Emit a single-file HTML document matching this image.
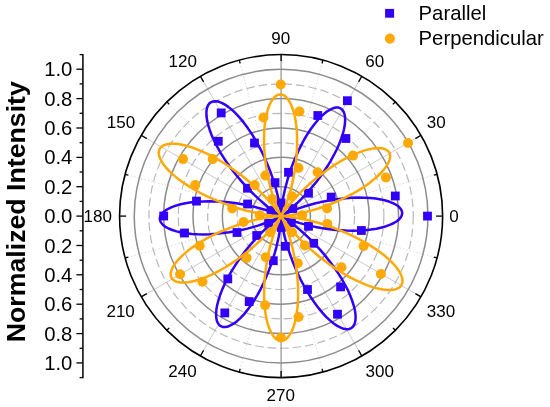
<!DOCTYPE html>
<html><head><meta charset="utf-8"><title>Polar plot</title>
<style>html,body{margin:0;padding:0;background:#fff}svg{display:block}</style></head>
<body>
<svg width="550" height="407" viewBox="0 0 550 407" font-family="'Liberation Sans', Arial, sans-serif">
<rect width="550" height="407" fill="#fff"/>
<g stroke="#c4c4c4" stroke-width="0.9" fill="none"><line x1="281.1" y1="216.1" x2="421.0" y2="135.3"/><line x1="281.1" y1="216.1" x2="361.9" y2="76.2"/><line x1="281.1" y1="216.1" x2="200.3" y2="76.2"/><line x1="281.1" y1="216.1" x2="141.2" y2="135.3"/><line x1="281.1" y1="216.1" x2="141.2" y2="296.9"/><line x1="281.1" y1="216.1" x2="200.3" y2="356.0"/><line x1="281.1" y1="216.1" x2="361.9" y2="356.0"/><line x1="281.1" y1="216.1" x2="421.0" y2="296.9"/></g>
<g stroke="#d6d6d6" stroke-width="0.9" stroke-dasharray="1.5 2" fill="none"><line x1="281.1" y1="216.1" x2="437.1" y2="174.3"/><line x1="281.1" y1="216.1" x2="395.3" y2="101.9"/><line x1="281.1" y1="216.1" x2="322.9" y2="60.1"/><line x1="281.1" y1="216.1" x2="239.3" y2="60.1"/><line x1="281.1" y1="216.1" x2="166.9" y2="101.9"/><line x1="281.1" y1="216.1" x2="125.1" y2="174.3"/><line x1="281.1" y1="216.1" x2="125.1" y2="257.9"/><line x1="281.1" y1="216.1" x2="166.9" y2="330.3"/><line x1="281.1" y1="216.1" x2="239.3" y2="372.1"/><line x1="281.1" y1="216.1" x2="322.9" y2="372.1"/><line x1="281.1" y1="216.1" x2="395.3" y2="330.3"/><line x1="281.1" y1="216.1" x2="437.1" y2="257.9"/></g>
<g stroke="#b8b8b8" stroke-width="1.2" stroke-dasharray="8.5 4" fill="none"><circle cx="281.1" cy="216.1" r="14.69"/><circle cx="281.1" cy="216.1" r="44.05"/><circle cx="281.1" cy="216.1" r="73.42"/><circle cx="281.1" cy="216.1" r="102.79"/><circle cx="281.1" cy="216.1" r="132.16"/></g>
<g stroke="#8c8c8c" stroke-width="1.5" fill="none"><circle cx="281.1" cy="216.1" r="29.37"/><circle cx="281.1" cy="216.1" r="58.74"/><circle cx="281.1" cy="216.1" r="88.11"/><circle cx="281.1" cy="216.1" r="117.48"/><circle cx="281.1" cy="216.1" r="146.85"/></g>
<line x1="281.1" y1="54.6" x2="281.1" y2="377.6" stroke="#909090" stroke-width="1.2"/>
<circle cx="281.1" cy="216.1" r="161.53" fill="none" stroke="#000" stroke-width="1.6"/>
<g stroke="#000" stroke-width="1.3"><line x1="442.6" y1="216.1" x2="436.1" y2="216.1"/><line x1="437.1" y1="174.3" x2="433.9" y2="175.1"/><line x1="421.0" y1="135.3" x2="415.4" y2="138.6"/><line x1="395.3" y1="101.9" x2="393.0" y2="104.2"/><line x1="361.9" y1="76.2" x2="358.6" y2="81.8"/><line x1="322.9" y1="60.1" x2="322.1" y2="63.3"/><line x1="281.1" y1="54.6" x2="281.1" y2="61.1"/><line x1="239.3" y1="60.1" x2="240.1" y2="63.3"/><line x1="200.3" y1="76.2" x2="203.6" y2="81.8"/><line x1="166.9" y1="101.9" x2="169.2" y2="104.2"/><line x1="141.2" y1="135.3" x2="146.8" y2="138.6"/><line x1="125.1" y1="174.3" x2="128.3" y2="175.1"/><line x1="119.6" y1="216.1" x2="126.1" y2="216.1"/><line x1="125.1" y1="257.9" x2="128.3" y2="257.1"/><line x1="141.2" y1="296.9" x2="146.8" y2="293.6"/><line x1="166.9" y1="330.3" x2="169.2" y2="328.0"/><line x1="200.3" y1="356.0" x2="203.6" y2="350.4"/><line x1="239.3" y1="372.1" x2="240.1" y2="368.9"/><line x1="281.1" y1="377.6" x2="281.1" y2="371.1"/><line x1="322.9" y1="372.1" x2="322.1" y2="368.9"/><line x1="361.9" y1="356.0" x2="358.6" y2="350.4"/><line x1="395.3" y1="330.3" x2="393.0" y2="328.0"/><line x1="421.0" y1="296.9" x2="415.4" y2="293.6"/><line x1="437.1" y1="257.9" x2="433.9" y2="257.1"/></g>
<g fill="#3200fa"><rect x="423.1" y="211.7" width="8.8" height="8.8"/><rect x="390.9" y="191.6" width="8.8" height="8.8"/><rect x="357.0" y="226.1" width="8.8" height="8.8"/><rect x="326.8" y="192.7" width="8.8" height="8.8"/><rect x="304.1" y="188.8" width="8.8" height="8.8"/><rect x="304.1" y="221.9" width="8.8" height="8.8"/><rect x="309.3" y="238.9" width="8.8" height="8.8"/><rect x="288.4" y="204.1" width="8.8" height="8.8"/><rect x="286.9" y="218.4" width="8.8" height="8.8"/><rect x="281.0" y="241.9" width="8.8" height="8.8"/><rect x="284.1" y="167.9" width="8.8" height="8.8"/><rect x="276.6" y="198.6" width="8.8" height="8.8"/><rect x="276.9" y="223.1" width="8.8" height="8.8"/><rect x="343.0" y="96.3" width="8.8" height="8.8"/><rect x="313.4" y="111.1" width="8.8" height="8.8"/><rect x="341.5" y="134.1" width="8.8" height="8.8"/><rect x="216.8" y="108.5" width="8.8" height="8.8"/><rect x="213.9" y="136.9" width="8.8" height="8.8"/><rect x="250.1" y="138.6" width="8.8" height="8.8"/><rect x="243.1" y="183.8" width="8.8" height="8.8"/><rect x="243.2" y="199.6" width="8.8" height="8.8"/><rect x="192.1" y="196.7" width="8.8" height="8.8"/><rect x="159.3" y="211.6" width="8.8" height="8.8"/><rect x="270.6" y="178.2" width="8.8" height="8.8"/><rect x="266.6" y="206.2" width="8.8" height="8.8"/><rect x="264.2" y="218.8" width="8.8" height="8.8"/><rect x="232.6" y="228.1" width="8.8" height="8.8"/><rect x="252.3" y="231.1" width="8.8" height="8.8"/><rect x="180.1" y="228.6" width="8.8" height="8.8"/><rect x="223.4" y="274.5" width="8.8" height="8.8"/><rect x="268.9" y="256.3" width="8.8" height="8.8"/><rect x="244.8" y="297.2" width="8.8" height="8.8"/><rect x="220.4" y="308.5" width="8.8" height="8.8"/><rect x="303.1" y="285.1" width="8.8" height="8.8"/><rect x="336.2" y="282.5" width="8.8" height="8.8"/><rect x="333.1" y="309.8" width="8.8" height="8.8"/></g>
<g fill="#ffa906"><circle cx="408.0" cy="143.0" r="5"/><circle cx="385.9" cy="177.5" r="5"/><circle cx="327.1" cy="208.5" r="5"/><circle cx="327.3" cy="223.9" r="5"/><circle cx="363.6" cy="246.0" r="5"/><circle cx="304.8" cy="245.4" r="5"/><circle cx="302.2" cy="215.3" r="5"/><circle cx="317.6" cy="172.2" r="5"/><circle cx="292.0" cy="196.3" r="5"/><circle cx="292.0" cy="232.2" r="5"/><circle cx="272.1" cy="199.0" r="5"/><circle cx="298.5" cy="168.0" r="5"/><circle cx="297.8" cy="263.3" r="5"/><circle cx="263.4" cy="117.5" r="5"/><circle cx="183.0" cy="159.1" r="5"/><circle cx="212.7" cy="159.1" r="5"/><circle cx="280.7" cy="84.5" r="5"/><circle cx="195.2" cy="185.1" r="5"/><circle cx="254.7" cy="185.1" r="5"/><circle cx="265.3" cy="175.5" r="5"/><circle cx="232.2" cy="208.4" r="5"/><circle cx="259.8" cy="215.3" r="5"/><circle cx="243.5" cy="222.0" r="5"/><circle cx="199.7" cy="245.8" r="5"/><circle cx="180.1" cy="274.3" r="5"/><circle cx="202.5" cy="281.7" r="5"/><circle cx="246.6" cy="257.9" r="5"/><circle cx="265.7" cy="257.2" r="5"/><circle cx="270.2" cy="232.2" r="5"/><circle cx="265.1" cy="305.2" r="5"/><circle cx="341.5" cy="267.2" r="5"/><circle cx="380.9" cy="274.0" r="5"/><circle cx="298.5" cy="317.0" r="5"/><circle cx="281.0" cy="337.5" r="5"/><circle cx="299.4" cy="111.6" r="5"/><circle cx="353.0" cy="155.6" r="5"/></g>
<path d="M281.1,216.1 L281.4,216.3 L282.3,216.7 L283.8,217.4 L285.9,218.3 L288.5,219.3 L291.8,220.5 L295.6,221.8 L299.9,223.1 L304.6,224.4 L309.8,225.7 L315.4,226.9 L321.2,228.0 L327.3,228.9 L333.6,229.7 L340.0,230.2 L346.4,230.6 L352.8,230.7 L359.1,230.6 L365.1,230.2 L371.0,229.5 L376.5,228.7 L381.6,227.5 L386.2,226.2 L390.3,224.7 L393.9,223.0 L396.9,221.2 L399.2,219.2 L400.9,217.1 L401.9,215.0 L402.2,212.9 L401.8,210.8 L400.7,208.8 L398.9,206.8 L396.5,205.0 L393.4,203.3 L389.7,201.8 L385.5,200.5 L380.8,199.4 L375.7,198.6 L370.1,198.0 L364.3,197.7 L358.2,197.6 L351.9,197.8 L345.6,198.2 L339.2,198.9 L332.8,199.8 L326.6,200.9 L320.6,202.1 L314.8,203.5 L309.3,205.0 L304.2,206.5 L299.5,208.1 L295.3,209.6 L291.5,211.1 L288.4,212.5 L285.7,213.7 L283.7,214.7 L282.3,215.4 L281.4,215.9 L281.1,216.1 M281.1,216.1 L281.4,215.9 L282.2,215.4 L283.6,214.4 L285.5,213.0 L287.8,211.2 L290.5,209.0 L293.5,206.3 L296.9,203.3 L300.5,199.8 L304.3,195.9 L308.2,191.6 L312.1,187.0 L316.1,182.2 L320.0,177.1 L323.8,171.8 L327.4,166.3 L330.7,160.8 L333.8,155.2 L336.6,149.7 L339.1,144.3 L341.1,139.0 L342.8,134.0 L344.0,129.2 L344.8,124.8 L345.1,120.8 L345.1,117.2 L344.5,114.2 L343.6,111.7 L342.3,109.7 L340.6,108.4 L338.5,107.6 L336.2,107.6 L333.5,108.1 L330.7,109.3 L327.6,111.1 L324.4,113.6 L321.1,116.6 L317.7,120.2 L314.4,124.2 L311.0,128.8 L307.7,133.7 L304.5,139.0 L301.5,144.6 L298.6,150.4 L295.9,156.4 L293.4,162.4 L291.1,168.4 L289.1,174.4 L287.4,180.1 L285.9,185.7 L284.6,191.0 L283.5,195.9 L282.7,200.4 L282.1,204.4 L281.7,207.9 L281.4,210.8 L281.2,213.1 L281.1,214.8 L281.1,215.8 L281.1,216.1 M281.1,216.1 L281.1,215.7 L281.0,214.6 L280.8,212.8 L280.5,210.3 L280.1,207.2 L279.4,203.4 L278.5,199.1 L277.4,194.3 L276.0,189.0 L274.3,183.3 L272.4,177.4 L270.2,171.2 L267.7,164.9 L264.9,158.4 L261.9,152.0 L258.6,145.7 L255.2,139.6 L251.6,133.7 L247.8,128.1 L244.0,122.9 L240.1,118.1 L236.2,113.9 L232.4,110.2 L228.6,107.1 L225.0,104.6 L221.6,102.8 L218.4,101.6 L215.5,101.2 L213.0,101.4 L210.8,102.3 L209.0,103.8 L207.7,106.0 L206.8,108.8 L206.4,112.2 L206.5,116.0 L207.1,120.4 L208.2,125.1 L209.8,130.2 L211.8,135.6 L214.4,141.2 L217.3,146.9 L220.6,152.8 L224.3,158.7 L228.2,164.5 L232.4,170.2 L236.8,175.8 L241.3,181.1 L245.8,186.2 L250.4,191.0 L254.9,195.4 L259.2,199.4 L263.3,203.0 L267.1,206.2 L270.5,208.9 L273.6,211.2 L276.2,213.0 L278.3,214.4 L279.8,215.4 L280.8,215.9 L281.1,216.1 M281.1,216.1 L280.8,215.9 L279.9,215.5 L278.4,214.8 L276.3,213.9 L273.7,212.8 L270.4,211.6 L266.6,210.3 L262.3,209.0 L257.6,207.7 L252.4,206.4 L246.8,205.2 L241.0,204.1 L234.9,203.1 L228.6,202.3 L222.2,201.7 L215.8,201.4 L209.4,201.2 L203.1,201.4 L197.0,201.7 L191.2,202.3 L185.7,203.2 L180.6,204.3 L175.9,205.6 L171.8,207.1 L168.2,208.8 L165.2,210.6 L162.8,212.6 L161.1,214.6 L160.1,216.7 L159.8,218.9 L160.2,221.0 L161.3,223.0 L163.1,225.0 L165.5,226.8 L168.6,228.5 L172.3,230.0 L176.5,231.4 L181.2,232.5 L186.4,233.3 L191.9,233.9 L197.7,234.3 L203.8,234.4 L210.1,234.2 L216.5,233.8 L222.9,233.1 L229.2,232.3 L235.5,231.2 L241.5,230.0 L247.4,228.6 L252.8,227.1 L258.0,225.6 L262.7,224.0 L266.9,222.5 L270.6,221.1 L273.8,219.7 L276.4,218.5 L278.5,217.5 L279.9,216.7 L280.8,216.3 L281.1,216.1 M281.1,216.1 L280.8,216.3 L280.0,216.9 L278.6,217.8 L276.7,219.2 L274.3,221.1 L271.6,223.4 L268.4,226.1 L265.0,229.3 L261.4,232.8 L257.5,236.8 L253.6,241.2 L249.5,245.8 L245.5,250.8 L241.6,256.1 L237.7,261.5 L234.1,267.1 L230.7,272.7 L227.5,278.4 L224.7,284.0 L222.2,289.6 L220.1,295.0 L218.5,300.1 L217.2,305.0 L216.4,309.5 L216.1,313.6 L216.2,317.2 L216.7,320.3 L217.7,322.9 L219.1,324.9 L220.8,326.2 L222.9,327.0 L225.3,327.0 L228.0,326.5 L230.9,325.2 L234.0,323.4 L237.3,320.9 L240.6,317.8 L244.1,314.1 L247.5,309.9 L250.9,305.3 L254.3,300.2 L257.5,294.8 L260.6,289.1 L263.5,283.2 L266.2,277.1 L268.7,270.9 L271.0,264.8 L273.0,258.7 L274.8,252.8 L276.4,247.1 L277.6,241.7 L278.7,236.7 L279.5,232.1 L280.1,228.0 L280.6,224.5 L280.8,221.5 L281.0,219.2 L281.1,217.5 L281.1,216.4 L281.1,216.1 M281.1,216.1 L281.1,216.5 L281.2,217.5 L281.4,219.3 L281.7,221.8 L282.2,224.9 L282.9,228.6 L283.8,232.9 L284.9,237.6 L286.3,242.8 L288.0,248.4 L290.0,254.3 L292.2,260.4 L294.7,266.6 L297.5,273.0 L300.5,279.3 L303.8,285.5 L307.2,291.5 L310.8,297.3 L314.6,302.8 L318.4,307.9 L322.3,312.6 L326.1,316.8 L330.0,320.4 L333.7,323.5 L337.3,325.9 L340.7,327.6 L343.8,328.8 L346.7,329.2 L349.2,329.0 L351.3,328.1 L353.1,326.5 L354.4,324.3 L355.2,321.6 L355.6,318.3 L355.5,314.5 L354.9,310.2 L353.7,305.5 L352.1,300.5 L350.1,295.2 L347.6,289.6 L344.6,284.0 L341.3,278.2 L337.6,272.4 L333.7,266.7 L329.5,261.1 L325.1,255.6 L320.7,250.4 L316.1,245.4 L311.6,240.7 L307.2,236.4 L302.9,232.5 L298.8,228.9 L295.0,225.8 L291.6,223.1 L288.5,220.9 L286.0,219.1 L283.9,217.8 L282.4,216.8 L281.4,216.3 L281.1,216.1" fill="none" stroke="#3200fa" stroke-width="2.5" stroke-linejoin="round"/>
<path d="M281.1,216.1 L281.4,216.1 L282.5,216.0 L284.2,215.9 L286.5,215.7 L289.5,215.3 L293.0,214.7 L297.1,214.0 L301.6,213.0 L306.6,211.8 L311.9,210.4 L317.6,208.7 L323.4,206.7 L329.4,204.5 L335.5,202.0 L341.5,199.3 L347.5,196.4 L353.3,193.3 L358.9,190.1 L364.2,186.7 L369.2,183.2 L373.7,179.6 L377.8,176.0 L381.3,172.5 L384.3,169.1 L386.7,165.7 L388.5,162.6 L389.6,159.6 L390.1,156.9 L390.0,154.5 L389.2,152.4 L387.7,150.8 L385.7,149.5 L383.1,148.6 L380.0,148.1 L376.4,148.2 L372.3,148.6 L367.8,149.6 L363.0,150.9 L357.9,152.8 L352.6,155.0 L347.2,157.7 L341.6,160.6 L336.0,164.0 L330.5,167.6 L325.1,171.4 L319.8,175.4 L314.7,179.5 L309.8,183.6 L305.3,187.8 L301.0,191.9 L297.2,195.9 L293.7,199.6 L290.7,203.2 L288.1,206.4 L285.9,209.2 L284.1,211.6 L282.7,213.5 L281.8,214.9 L281.3,215.8 L281.1,216.1 M281.1,216.1 L281.3,215.8 L281.7,214.9 L282.4,213.4 L283.4,211.4 L284.5,208.7 L285.8,205.4 L287.1,201.7 L288.5,197.4 L289.9,192.6 L291.3,187.4 L292.6,181.9 L293.8,176.0 L294.9,169.9 L295.8,163.6 L296.4,157.2 L296.9,150.8 L297.1,144.3 L297.1,138.0 L296.9,131.9 L296.3,126.1 L295.6,120.5 L294.5,115.4 L293.3,110.7 L291.8,106.5 L290.2,102.9 L288.4,99.9 L286.5,97.5 L284.5,95.7 L282.4,94.7 L280.3,94.4 L278.1,94.7 L276.1,95.8 L274.1,97.5 L272.2,100.0 L270.4,103.0 L268.8,106.7 L267.4,110.9 L266.3,115.6 L265.3,120.8 L264.6,126.3 L264.2,132.2 L264.0,138.3 L264.1,144.6 L264.4,151.0 L264.9,157.4 L265.7,163.8 L266.7,170.1 L267.8,176.2 L269.1,182.0 L270.5,187.6 L271.9,192.7 L273.4,197.5 L274.9,201.8 L276.3,205.5 L277.6,208.7 L278.8,211.4 L279.7,213.5 L280.5,214.9 L280.9,215.8 L281.1,216.1 M281.1,216.1 L280.9,215.8 L280.3,214.8 L279.2,213.3 L277.7,211.2 L275.6,208.6 L273.1,205.5 L270.1,202.1 L266.7,198.3 L262.7,194.2 L258.3,189.9 L253.6,185.5 L248.4,181.0 L242.9,176.6 L237.2,172.2 L231.2,167.9 L225.0,163.8 L218.8,160.0 L212.6,156.5 L206.3,153.4 L200.2,150.6 L194.3,148.3 L188.6,146.4 L183.2,145.0 L178.3,144.1 L173.8,143.7 L169.7,143.8 L166.3,144.4 L163.4,145.4 L161.2,146.9 L159.7,148.8 L158.9,151.1 L158.8,153.8 L159.4,156.8 L160.8,160.0 L162.8,163.4 L165.6,167.1 L169.0,170.8 L173.0,174.6 L177.6,178.4 L182.7,182.2 L188.3,185.9 L194.2,189.5 L200.5,193.0 L207.1,196.3 L213.8,199.3 L220.6,202.1 L227.3,204.7 L234.0,207.0 L240.6,209.0 L246.8,210.7 L252.8,212.1 L258.3,213.3 L263.4,214.2 L267.9,214.9 L271.8,215.5 L275.1,215.8 L277.7,216.0 L279.6,216.1 L280.7,216.1 L281.1,216.1 M281.1,216.1 L280.8,216.1 L279.7,216.1 L278.0,216.2 L275.7,216.4 L272.7,216.8 L269.1,217.3 L265.0,217.9 L260.5,218.8 L255.4,219.9 L250.1,221.3 L244.4,222.9 L238.5,224.8 L232.4,226.9 L226.3,229.3 L220.2,231.9 L214.1,234.7 L208.2,237.7 L202.5,240.9 L197.2,244.2 L192.1,247.6 L187.5,251.1 L183.4,254.6 L179.8,258.1 L176.7,261.5 L174.3,264.8 L172.4,267.9 L171.2,270.9 L170.7,273.6 L170.8,276.0 L171.6,278.1 L173.0,279.8 L175.0,281.1 L177.6,282.1 L180.7,282.6 L184.3,282.6 L188.4,282.2 L192.9,281.3 L197.8,280.0 L202.9,278.3 L208.3,276.1 L213.8,273.6 L219.4,270.7 L225.1,267.5 L230.7,263.9 L236.2,260.2 L241.6,256.3 L246.8,252.3 L251.7,248.2 L256.4,244.1 L260.7,240.0 L264.6,236.1 L268.1,232.4 L271.3,228.9 L274.0,225.8 L276.2,223.0 L278.0,220.6 L279.4,218.7 L280.4,217.3 L280.9,216.4 L281.1,216.1 M281.1,216.1 L280.9,216.4 L280.5,217.3 L279.7,218.8 L278.7,220.9 L277.6,223.7 L276.3,227.0 L274.8,230.9 L273.4,235.2 L271.9,240.1 L270.4,245.4 L269.0,251.1 L267.8,257.1 L266.6,263.4 L265.7,269.8 L264.9,276.4 L264.4,283.0 L264.1,289.6 L264.1,296.0 L264.3,302.3 L264.8,308.3 L265.6,314.0 L266.6,319.3 L267.8,324.1 L269.3,328.4 L270.9,332.1 L272.8,335.2 L274.7,337.7 L276.8,339.5 L278.9,340.6 L281.1,340.9 L283.3,340.6 L285.4,339.5 L287.5,337.7 L289.4,335.2 L291.3,332.1 L292.9,328.4 L294.4,324.1 L295.6,319.3 L296.6,314.0 L297.4,308.3 L297.9,302.3 L298.1,296.0 L298.1,289.6 L297.8,283.0 L297.3,276.4 L296.5,269.8 L295.6,263.4 L294.4,257.1 L293.2,251.1 L291.8,245.4 L290.3,240.1 L288.8,235.2 L287.4,230.9 L285.9,227.0 L284.6,223.7 L283.5,220.9 L282.5,218.8 L281.7,217.3 L281.3,216.4 L281.1,216.1 M281.1,216.1 L281.3,216.4 L281.9,217.4 L283.0,218.9 L284.5,221.1 L286.5,223.7 L288.9,226.8 L291.9,230.3 L295.3,234.1 L299.2,238.3 L303.5,242.6 L308.2,247.1 L313.3,251.6 L318.7,256.2 L324.4,260.6 L330.3,265.0 L336.4,269.1 L342.6,273.0 L348.8,276.6 L355.0,279.9 L361.1,282.7 L367.0,285.1 L372.6,287.1 L377.9,288.6 L382.9,289.5 L387.4,290.0 L391.4,290.0 L394.9,289.4 L397.8,288.4 L400.0,287.0 L401.5,285.1 L402.4,282.8 L402.5,280.1 L401.9,277.1 L400.6,273.9 L398.6,270.4 L395.9,266.8 L392.6,263.0 L388.6,259.1 L384.1,255.2 L379.0,251.4 L373.5,247.6 L367.6,243.9 L361.3,240.3 L354.8,237.0 L348.2,233.8 L341.4,230.9 L334.7,228.3 L328.0,225.9 L321.5,223.8 L315.3,222.0 L309.4,220.5 L303.8,219.2 L298.8,218.2 L294.3,217.4 L290.4,216.9 L287.1,216.5 L284.5,216.3 L282.6,216.1 L281.5,216.1 L281.1,216.1" fill="none" stroke="#ffa906" stroke-width="2.5" stroke-linejoin="round"/>
<line x1="82.9" y1="54.0" x2="82.9" y2="378.2" stroke="#000" stroke-width="1.5"/>
<g stroke="#000" stroke-width="1.3"><line x1="79.6" y1="54.6" x2="82.9" y2="54.6"/><line x1="76.4" y1="69.2" x2="82.9" y2="69.2"/><line x1="79.6" y1="83.9" x2="82.9" y2="83.9"/><line x1="76.4" y1="98.6" x2="82.9" y2="98.6"/><line x1="79.6" y1="113.3" x2="82.9" y2="113.3"/><line x1="76.4" y1="128.0" x2="82.9" y2="128.0"/><line x1="79.6" y1="142.7" x2="82.9" y2="142.7"/><line x1="76.4" y1="157.4" x2="82.9" y2="157.4"/><line x1="79.6" y1="172.0" x2="82.9" y2="172.0"/><line x1="76.4" y1="186.7" x2="82.9" y2="186.7"/><line x1="79.6" y1="201.4" x2="82.9" y2="201.4"/><line x1="76.4" y1="216.1" x2="82.9" y2="216.1"/><line x1="79.6" y1="230.8" x2="82.9" y2="230.8"/><line x1="76.4" y1="245.5" x2="82.9" y2="245.5"/><line x1="79.6" y1="260.2" x2="82.9" y2="260.2"/><line x1="76.4" y1="274.8" x2="82.9" y2="274.8"/><line x1="79.6" y1="289.5" x2="82.9" y2="289.5"/><line x1="76.4" y1="304.2" x2="82.9" y2="304.2"/><line x1="79.6" y1="318.9" x2="82.9" y2="318.9"/><line x1="76.4" y1="333.6" x2="82.9" y2="333.6"/><line x1="79.6" y1="348.3" x2="82.9" y2="348.3"/><line x1="76.4" y1="362.9" x2="82.9" y2="362.9"/><line x1="79.6" y1="377.6" x2="82.9" y2="377.6"/></g>
<g font-size="20.3" text-anchor="end" fill="#000"><text x="72.4" y="76.2">1.0</text><text x="72.4" y="105.6">0.8</text><text x="72.4" y="135.0">0.6</text><text x="72.4" y="164.4">0.4</text><text x="72.4" y="193.7">0.2</text><text x="72.4" y="223.1">0.0</text><text x="72.4" y="252.5">0.2</text><text x="72.4" y="281.8">0.4</text><text x="72.4" y="311.2">0.6</text><text x="72.4" y="340.6">0.8</text><text x="72.4" y="369.9">1.0</text></g>
<text transform="translate(25.1,211.7) rotate(-90)" font-size="26.7" font-weight="bold" text-anchor="middle" fill="#000">Normalized Intensity</text>
<g font-size="17" fill="#000"><text x="449.3" y="222.3" text-anchor="start">0</text><text x="426.8" y="128.3" text-anchor="start">30</text><text x="365.2" y="66.9" text-anchor="start">60</text><text x="280.8" y="44.2" text-anchor="middle">90</text><text x="196.9" y="66.9" text-anchor="end">120</text><text x="135.2" y="128.3" text-anchor="end">150</text><text x="111.9" y="222.2" text-anchor="end">180</text><text x="134.8" y="316.7" text-anchor="end">210</text><text x="196.6" y="377.1" text-anchor="end">240</text><text x="280.8" y="400.5" text-anchor="middle">270</text><text x="365.6" y="377.1" text-anchor="start">300</text><text x="426.8" y="316.7" text-anchor="start">330</text></g>
<rect x="385.1" y="8.9" width="9" height="8.8" fill="#3200fa"/>
<circle cx="389.9" cy="38.6" r="5.1" fill="#ffa906"/>
<text x="418.6" y="20.3" font-size="20.3" fill="#000">Parallel</text>
<text x="418.6" y="44.9" font-size="20.3" fill="#000">Perpendicular</text>
</svg>
</body></html>
